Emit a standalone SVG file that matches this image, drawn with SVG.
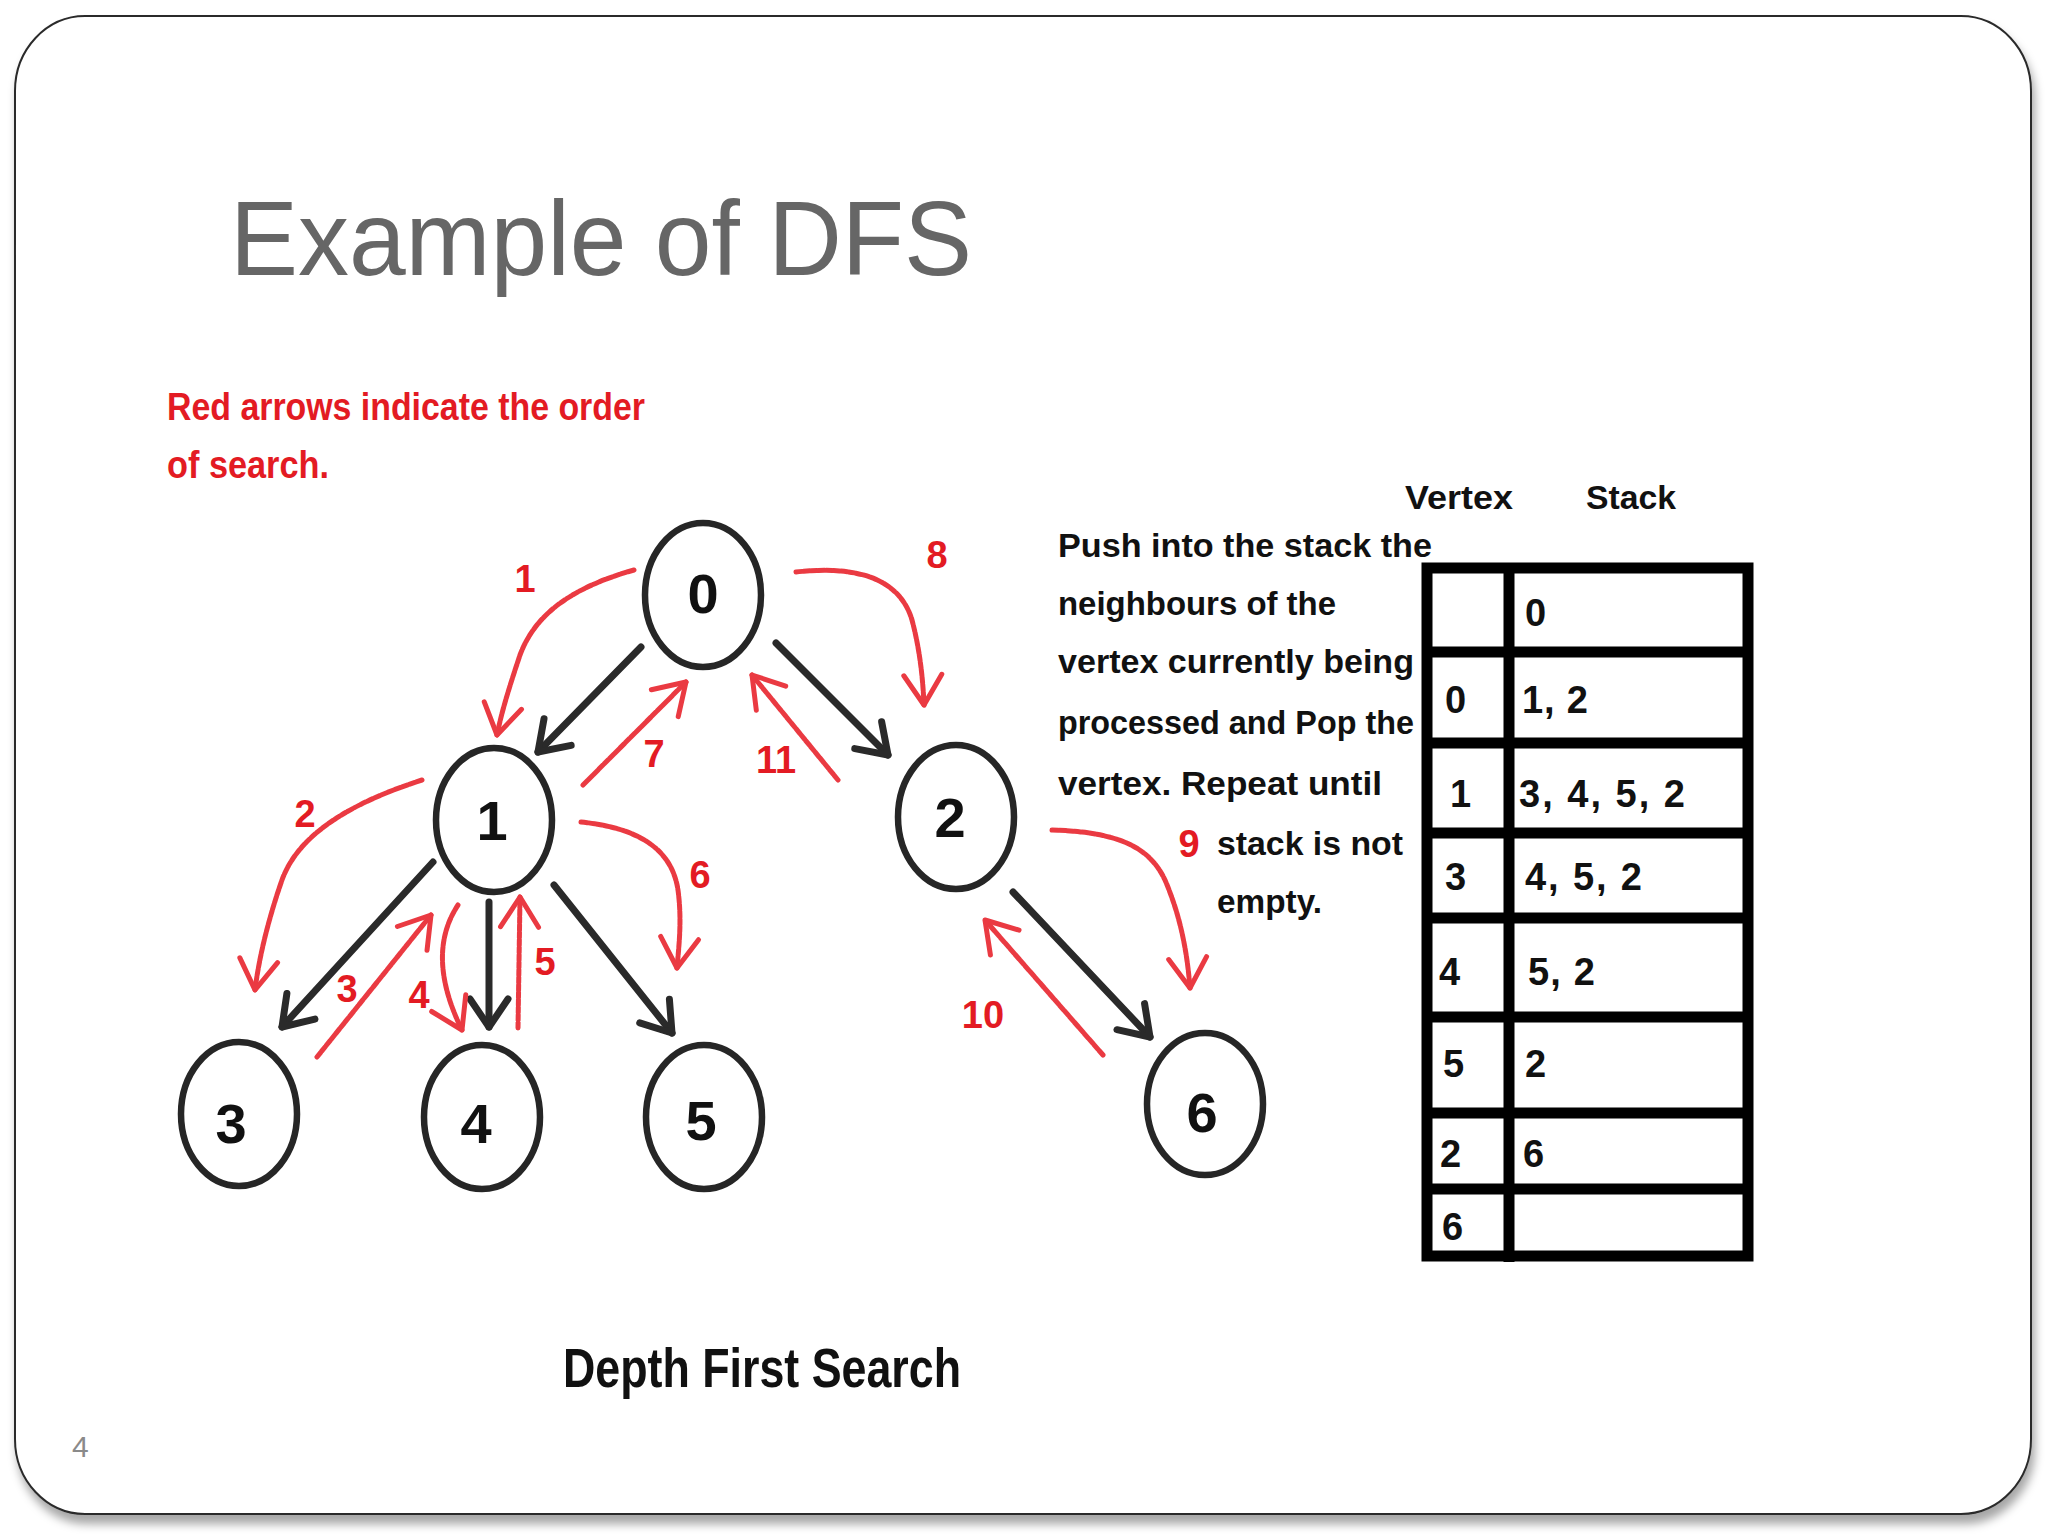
<svg xmlns="http://www.w3.org/2000/svg" width="2048" height="1536" viewBox="0 0 2048 1536">
  <defs>
    <filter id="shadow" x="-5%" y="-5%" width="110%" height="112%">
      <feDropShadow dx="3" dy="9" stdDeviation="5" flood-color="#000" flood-opacity="0.35"/>
    </filter>
    <marker id="blackHead" markerUnits="userSpaceOnUse" orient="auto" refX="0" refY="0" markerWidth="60" markerHeight="60" overflow="visible">
      <path d="M-28,-19 L0,0 L-28,19" fill="none" stroke="#2a2a2a" stroke-width="7" stroke-linecap="round" stroke-linejoin="round"/>
    </marker>
    <marker id="redHead" markerUnits="userSpaceOnUse" orient="auto" refX="0" refY="0" markerWidth="60" markerHeight="60" overflow="visible">
      <path d="M-30,-19 L0,0 L-30,19" fill="none" stroke="#ea3a42" stroke-width="5" stroke-linecap="round" stroke-linejoin="round"/>
    </marker>
  </defs>
  <style>
    .node ellipse { fill: #ffffff; stroke: #262626; stroke-width: 6.5; }
    .node text { font-family: "Liberation Sans", Arial, sans-serif; font-weight: bold; font-size: 56px; fill: #111; text-anchor: middle; }
    .edge { fill: none; stroke: #2a2a2a; stroke-width: 7; stroke-linecap: round; marker-end: url(#blackHead); }
    .red { fill: none; stroke: #ea3a42; stroke-width: 5; stroke-linecap: round; stroke-dasharray: 6 1.5; marker-end: url(#redHead); }
    .rlab { font-family: "Liberation Sans", Arial, sans-serif; font-weight: bold; font-size: 38px; fill: #e31b23; text-anchor: middle; }
    .hand { font-family: "Liberation Sans", Arial, sans-serif; font-weight: bold; font-size: 34px; fill: #111; }
    .cell { font-family: "Liberation Sans", Arial, sans-serif; font-weight: bold; font-size: 38px; fill: #111; }
    .grid { fill: none; stroke: #000; stroke-width: 11; }
  </style>

  <rect x="0" y="0" width="2048" height="1536" fill="#ffffff"/>
  <rect x="15" y="16" width="2016" height="1498" rx="70" ry="75" fill="#ffffff" stroke="#2b2b2b" stroke-width="2" filter="url(#shadow)"/>

  <text x="230" y="275" font-family="Liberation Sans, Arial, sans-serif" font-size="106" fill="#666666" textLength="742" lengthAdjust="spacingAndGlyphs">Example of DFS</text>

  <text x="167" y="420" font-family="Liberation Sans, Arial, sans-serif" font-weight="bold" font-size="38" fill="#e31b23" textLength="478" lengthAdjust="spacingAndGlyphs">Red arrows indicate the order</text>
  <text x="167" y="478" font-family="Liberation Sans, Arial, sans-serif" font-weight="bold" font-size="38" fill="#e31b23" textLength="162" lengthAdjust="spacingAndGlyphs">of search.</text>

  <g id="connectors">
    <path class="edge" d="M641,647 L538,752"/>
    <path class="edge" d="M776,643 L888,755"/>
    <path class="edge" d="M433,862 L282,1027"/>
    <path class="edge" d="M489,902 L489,1027"/>
    <path class="edge" d="M554,885 L672,1033"/>
    <path class="edge" d="M1013,892 L1150,1037"/>

    <path class="red" d="M634,570 C570,588 535,615 520,655 C510,685 502,710 497,735"/>
    <path class="red" d="M422,780 C360,800 300,830 282,880 C268,920 259,958 255,990"/>
    <path class="red" d="M317,1057 L431,915"/>
    <path class="red" d="M458,905 Q425,955 462,1030"/>
    <path class="red" d="M518,1028 L520,897"/>
    <path class="red" d="M581,822 C640,828 672,850 678,890 C682,920 679,945 677,968"/>
    <path class="red" d="M583,785 L686,682"/>
    <path class="red" d="M796,572 C860,565 900,580 912,620 C920,650 923,680 924,705"/>
    <path class="red" d="M1052,830 C1120,832 1150,848 1165,880 C1180,915 1187,950 1190,988"/>
    <path class="red" d="M1103,1055 L985,920"/>
    <path class="red" d="M838,780 L752,675"/>

    <text class="rlab" x="525" y="592">1</text>
    <text class="rlab" x="305" y="827">2</text>
    <text class="rlab" x="347" y="1002">3</text>
    <text class="rlab" x="419" y="1008">4</text>
    <text class="rlab" x="545" y="975">5</text>
    <text class="rlab" x="700" y="888">6</text>
    <text class="rlab" x="654" y="767">7</text>
    <text class="rlab" x="937" y="568">8</text>
    <text class="rlab" x="1189" y="857">9</text>
    <text class="rlab" x="983" y="1028">10</text>
    <text class="rlab" x="776" y="773">11</text>
  </g>

  <g id="node-0" class="node"><ellipse cx="703" cy="595" rx="58" ry="72"/><text x="703" y="613">0</text></g>
  <g id="node-1" class="node"><ellipse cx="494" cy="820" rx="58" ry="72"/><text x="492" y="840">1</text></g>
  <g id="node-2" class="node"><ellipse cx="956" cy="817" rx="58" ry="72"/><text x="950" y="837">2</text></g>
  <g id="node-3" class="node"><ellipse cx="239" cy="1114" rx="58" ry="72"/><text x="231" y="1143">3</text></g>
  <g id="node-4" class="node"><ellipse cx="482" cy="1117" rx="58" ry="72"/><text x="476" y="1143">4</text></g>
  <g id="node-5" class="node"><ellipse cx="704" cy="1117" rx="58" ry="72"/><text x="701" y="1140">5</text></g>
  <g id="node-6" class="node"><ellipse cx="1205" cy="1104" rx="58" ry="71"/><text x="1202" y="1132">6</text></g>

  <g id="explanation">
    <text class="hand" x="1058" y="557" textLength="374" lengthAdjust="spacingAndGlyphs">Push into the stack the</text>
    <text class="hand" x="1058" y="615" textLength="278" lengthAdjust="spacingAndGlyphs">neighbours of the</text>
    <text class="hand" x="1058" y="673" textLength="356" lengthAdjust="spacingAndGlyphs">vertex currently being</text>
    <text class="hand" x="1058" y="734" textLength="356" lengthAdjust="spacingAndGlyphs">processed and Pop the</text>
    <text class="hand" x="1058" y="795" textLength="324" lengthAdjust="spacingAndGlyphs">vertex. Repeat until</text>
    <text class="hand" x="1217" y="855" textLength="186" lengthAdjust="spacingAndGlyphs">stack is not</text>
    <text class="hand" x="1217" y="913" textLength="105" lengthAdjust="spacingAndGlyphs">empty.</text>
  </g>

  <g id="stack-table">
    <text class="hand" x="1405" y="509" font-size="36" textLength="108" lengthAdjust="spacingAndGlyphs">Vertex</text>
    <text class="hand" x="1586" y="509" font-size="36" textLength="90" lengthAdjust="spacingAndGlyphs">Stack</text>
    <rect class="grid" x="1427" y="568" width="321" height="688"/>
    <path class="grid" d="M1509,568 L1509,1262 M1427,652 L1748,652 M1427,743 L1748,743 M1427,833 L1748,833 M1427,918 L1748,918 M1427,1017 L1748,1017 M1427,1113 L1748,1113 M1427,1189 L1748,1189"/>
    <text class="cell" x="1525" y="626">0</text>
    <text class="cell" x="1445" y="713">0</text>
    <text class="cell" x="1522" y="713" textLength="66" lengthAdjust="spacing">1, 2</text>
    <text class="cell" x="1450" y="807">1</text>
    <text class="cell" x="1519" y="807" textLength="166" lengthAdjust="spacing">3, 4, 5, 2</text>
    <text class="cell" x="1445" y="890">3</text>
    <text class="cell" x="1525" y="890" textLength="117" lengthAdjust="spacing">4, 5, 2</text>
    <text class="cell" x="1439" y="985">4</text>
    <text class="cell" x="1528" y="985" textLength="67" lengthAdjust="spacing">5, 2</text>
    <text class="cell" x="1443" y="1077">5</text>
    <text class="cell" x="1525" y="1077">2</text>
    <text class="cell" x="1440" y="1167">2</text>
    <text class="cell" x="1523" y="1167">6</text>
    <text class="cell" x="1442" y="1240">6</text>
  </g>

  <text x="563" y="1387" font-family="Liberation Sans, Arial, sans-serif" font-weight="bold" font-size="56" fill="#111" textLength="398" lengthAdjust="spacingAndGlyphs">Depth First Search</text>

  <text x="72" y="1457" font-family="Liberation Sans, Arial, sans-serif" font-size="30" fill="#8a8a8a">4</text>
</svg>
